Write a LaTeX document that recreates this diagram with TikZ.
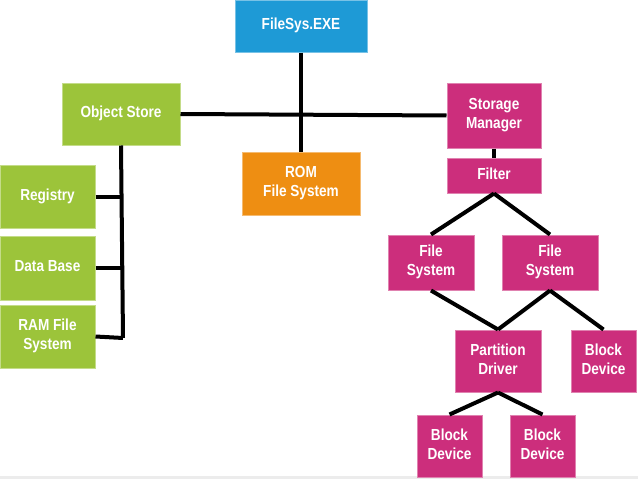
\documentclass[tikz,border=0pt]{standalone}
\usepackage{fontspec}
\setmainfont{Liberation Sans}
\begin{document}
\begin{tikzpicture}[x=1pt,y=-1pt,
 box/.style={draw=#1!60!white,line width=1pt,fill=#1,text=white,font=\bfseries\fontsize{16}{19}\selectfont,align=center,inner sep=0pt},
 ln/.style={line width=4pt,black}]
\useasboundingbox (0,0) rectangle (638,479);
\fill[gray!15] (0,476) rectangle (638,479);
\newcommand{\bx}[7]{\node[#2,minimum width=#5-#3,minimum height=#6-#4] (#1) at ({(#3+#5)/2},{(#4+#6)/2}) {\scalebox{0.85}[1]{\begin{tabular}{@{}c@{}}#7\end{tabular}}};}
\definecolor{cblue}{HTML}{1E9AD6}
\definecolor{corange}{HTML}{EE8E12}
\definecolor{cgreen}{HTML}{9CC43A}
\definecolor{cmag}{HTML}{CC2E7C}
\tikzset{gbox/.style={box=cgreen},mbox/.style={box=cmag}}
\bx{fs}{box=cblue}{235}{0}{367}{52}{FileSys.EXE}
\bx{os}{gbox}{62}{83}{180}{145}{Object Store}
\bx{sm}{mbox}{447}{83}{541}{148}{Storage\\Manager}
\bx{rom}{box=corange}{242}{152}{360}{215}{ROM\\File System}
\bx{fil}{mbox}{447}{158}{541}{193}{Filter}
\bx{reg}{gbox}{0}{165}{95}{228}{Registry}
\bx{db}{gbox}{0}{236}{95}{300}{Data Base}
\bx{ram}{gbox}{0}{305}{95}{368}{RAM File\\System}
\bx{fsl}{mbox}{388}{235}{474}{290}{File\\System}
\bx{fsr}{mbox}{502}{235}{598}{290}{File\\System}
\bx{pd}{mbox}{455}{330}{541}{392}{Partition\\Driver}
\bx{bdr}{mbox}{571}{330}{636}{392}{Block\\Device}
\bx{bdl}{mbox}{417}{415}{482}{477}{Block\\Device}
\bx{bdm}{mbox}{510}{415}{575}{477}{Block\\Device}
\coordinate (v) at (123,338);
\draw[ln] (fs.south) -- (rom.north);
\draw[ln] (os.east) -- (sm.west);
\draw[ln] (os.south) -- (v);
\draw[ln] (reg.east) -- (reg.east-|v);
\draw[ln] (db.east) -- (db.east-|v);
\draw[ln] (ram.east) -- (v);
\draw[ln] (sm.south) -- (fil.north);
\draw[ln] (fil.south) -- (fsl.north);
\draw[ln] (fil.south) -- (fsr.north);
\draw[ln] (fsl.south) -- (pd.north);
\draw[ln] (fsr.south) -- (pd.north);
\draw[ln] (fsr.south) -- (bdr.north);
\draw[ln] (pd.south) -- (bdl.north);
\draw[ln] (pd.south) -- (bdm.north);
\end{tikzpicture}
\end{document}
